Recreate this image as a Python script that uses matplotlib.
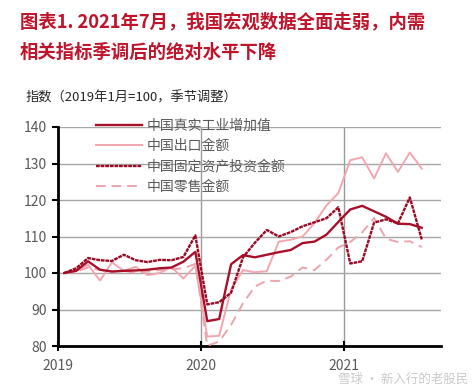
import matplotlib
matplotlib.use("Agg")
import matplotlib.pyplot as plt
import numpy as np

plt.rcParams['font.family'] = ['Noto Sans CJK SC', 'DejaVu Sans']

# ---- data: monthly index, Jan 2019 .. Jul 2021 (2019-01 = 100, SA) ----
year_labels = ["2019", "2020", "2021"]
series_names = ["中国真实工业增加值", "中国出口金额", "中国固定资产投资金额", "中国零售金额"]

industrial = [100.0, 100.6, 103.2, 100.9, 100.4, 100.6, 100.7, 100.9, 101.3, 101.5, 103.1, 105.8,
              86.8, 87.4, 102.4, 104.9, 104.3, 105.0, 105.7, 106.3, 108.2, 108.6, 110.5, 114.0,
              117.4, 118.4, 116.9, 115.4, 113.5, 113.4, 112.4]
exports = [100.0, 100.5, 102.3, 97.9, 102.9, 100.6, 101.7, 99.4, 100.0, 101.6, 98.5, 102.0,
           82.6, 82.8, 95.5, 100.8, 100.2, 100.5, 108.6, 109.1, 110.0, 113.7, 118.5, 121.9,
           130.9, 131.7, 125.9, 132.8, 127.7, 133.0, 128.6]
fai = [100.0, 101.3, 104.1, 103.5, 103.3, 105.0, 103.5, 103.0, 103.6, 103.5, 104.4, 110.3,
       91.4, 92.0, 94.6, 104.3, 108.3, 111.8, 110.0, 111.2, 112.8, 113.9, 115.0, 118.0,
       102.6, 103.2, 113.8, 114.7, 113.6, 120.7, 109.2]
retail = [100.0, 100.4, 101.5, 100.8, 100.4, 100.6, 100.0, 100.4, 100.8, 101.0, 101.3, 102.5,
          80.1, 81.2, 85.8, 91.7, 96.3, 97.9, 97.8, 99.0, 101.5, 100.8, 103.6, 107.0,
          108.5, 111.1, 115.1, 109.4, 108.5, 108.7, 107.1]

n = len(industrial)
x = np.arange(n) + 0.5  # month centres

fig = plt.figure(figsize=(4.74, 3.87), dpi=100)
ax = fig.add_axes([58.3 / 474, 1 - 346 / 387, (440.7 - 58.3) / 474, (346 - 127) / 387])

red_title = '#C0142B'
fig.text(20 / 474, 1 - 21.5 / 387, "图表1. 2021年7月，我国宏观数据全面走弱，内需",
         ha='left', va='center', fontsize=13.2, weight='bold', color=red_title)
fig.text(20 / 474, 1 - 52 / 387, "相关指标季调后的绝对水平下降",
         ha='left', va='center', fontsize=13.2, weight='bold', color=red_title)
fig.text(26 / 474, 1 - 97.5 / 387, "指数（2019年1月=100，季节调整）",
         ha='left', va='center', fontsize=9.5, color='#262626')

c_ind = '#A8102A'
c_exp = '#F2A7AE'
c_fai = '#9B0A24'
c_ret = '#EBA5AC'

l1, = ax.plot(x, industrial, color=c_ind, lw=1.7, label=series_names[0], zorder=4)
l2, = ax.plot(x, exports, color=c_exp, lw=1.4, label=series_names[1], zorder=3)
l3, = ax.plot(x, fai, color=c_fai, lw=1.7, ls=(0, (1.6, 0.35)), label=series_names[2], zorder=4)
l4, = ax.plot(x, retail, color=c_ret, lw=1.4, ls=(0, (5, 3)), label=series_names[3], zorder=3)

ax.set_xlim(0, 32.09)
ax.set_ylim(80, 140)
ax.set_yticks(np.arange(80, 141, 10))
ax.set_xticks([0, 12, 24])
ax.set_xticklabels(year_labels)

ax.grid(True, axis='y', color='#A6A6A6', lw=1.0, zorder=0)
ax.grid(True, axis='x', color='#9A9A9A', lw=1.0, zorder=0)
ax.set_axisbelow(True)

for s in ['top', 'right']:
    ax.spines[s].set_visible(False)
for s in ['left', 'bottom']:
    ax.spines[s].set_color('black')
    ax.spines[s].set_linewidth(2.0)

ax.tick_params(axis='y', direction='out', length=4, width=1.5, color='black',
               labelsize=10, labelcolor='#595959', pad=4)
ax.tick_params(axis='x', direction='inout', length=7, width=1.5, color='black',
               labelsize=10, labelcolor='#595959', pad=6)

leg = ax.legend(handles=[l1, l2, l3, l4], loc='upper left',
                bbox_to_anchor=(96 / 474, 1 - 119 / 387), bbox_transform=fig.transFigure,
                frameon=False, fontsize=10, handlelength=3.3, handletextpad=0.35,
                labelspacing=0.45, borderpad=0, borderaxespad=0)
for t in leg.get_texts():
    t.set_color('#595959')

fig.text(468 / 474, 1 - 379 / 387, "雪球 · 新入行的老股民", ha='right', va='center',
         fontsize=9, color='#BDBDBD', alpha=0.8)

fig.savefig("out.png", dpi=100)
